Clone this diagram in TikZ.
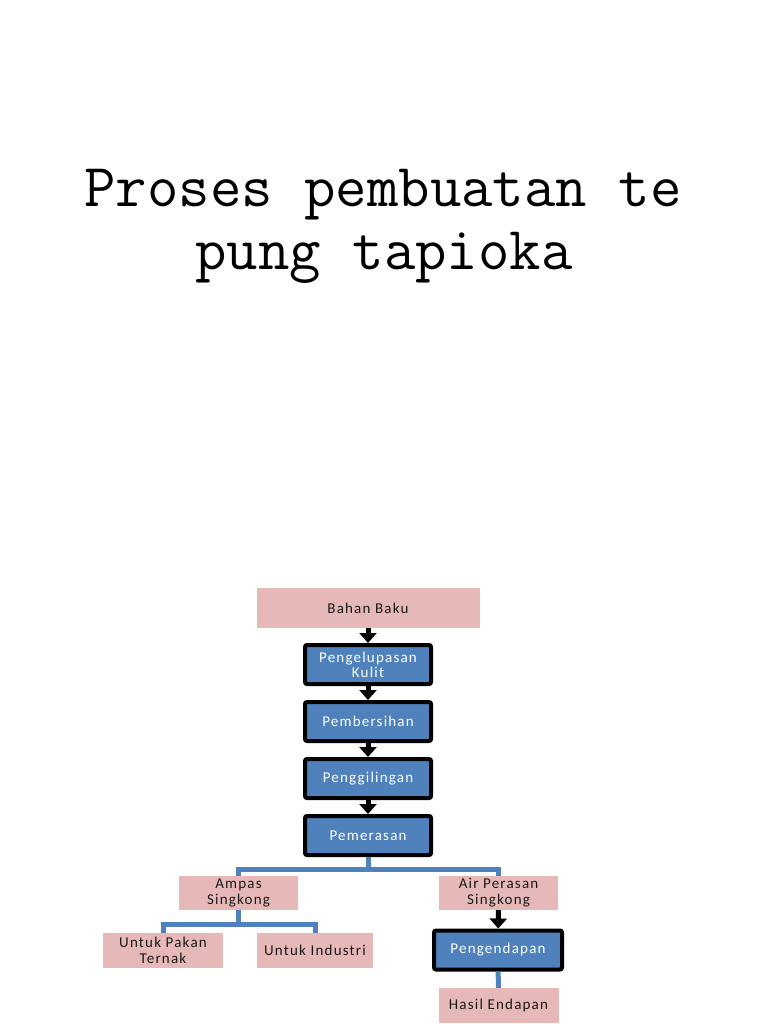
\documentclass[tikz,border=0pt]{standalone}
\usepackage{fontspec}
\newfontfamily\boxfont[LetterSpace=8]{Carlito}
\usetikzlibrary{arrows.meta,positioning,calc}
\definecolor{boxpink}{HTML}{E6B9B8}
\definecolor{boxblue}{HTML}{4F81BD}

\begin{document}
\begin{tikzpicture}[x=1pt,y=-1pt,
  pinkbox/.style={fill=boxpink,text=black!90,font=\boxfont\fontsize{15}{16}\selectfont,align=center,inner sep=0pt},
  bluebox/.style={fill=boxblue,draw=black,line width=4pt,rounded corners=2pt,text=white,font=\boxfont\fontsize{15}{15}\selectfont,align=center,inner sep=0pt,minimum width=126pt,minimum height=39pt},
  flowarrow/.style={-{Triangle[width=17pt,length=10pt]},line width=5pt},
  branch/.style={draw=boxblue,line width=5pt}]

\useasboundingbox (0,0) rectangle (768,1024);

\node[font=\ttfamily\fontsize{61}{62}\selectfont,anchor=base] (title) at (383,207) {Proses pembuatan te};
\node[font=\ttfamily\fontsize{61}{62}\selectfont,anchor=base] (titlecont) at (384,269) {pung tapioka};

\node[pinkbox,minimum width=223pt,minimum height=40pt] (bahan) at (368,608) {Bahan Baku};
\node[bluebox] (kulit) at (368,664.5) {Pengelupasan\\Kulit};
\node[bluebox] (bersih) at (368,721.5) {Pembersihan};
\node[bluebox] (giling) at (368,778.5) {Penggilingan};
\node[bluebox] (peras) at (368,835.5) {Pemerasan};

\node[pinkbox,minimum width=119pt,minimum height=34pt] (ampas) at (238.5,893) {Ampas\\Singkong};
\node[pinkbox,minimum width=119pt,minimum height=34pt] (airperas) at (498.5,893) {Air Perasan\\Singkong};
\node[pinkbox,minimum width=120pt,minimum height=35pt] (pakan) at (163,950.5) {Untuk Pakan\\Ternak};
\node[pinkbox,minimum width=116pt,minimum height=35pt] (industri) at (315,950.5) {Untuk Industri};
\node[bluebox,minimum width=128pt] (endap) at (498,950) {Pengendapan};
\node[pinkbox,minimum width=120pt,minimum height=35pt] (hasil) at (498.5,1005.5) {Hasil Endapan};

\foreach \a/\b in {bahan/kulit,kulit/bersih,bersih/giling,giling/peras}
  \draw[flowarrow] (\a) -- (\b);

\coordinate (pbar) at (368,869);
\draw[branch] (peras) -- (pbar);
\draw[branch] (ampas.north) |- (pbar) -| (airperas.north);

\coordinate (abar) at (238.5,924);
\draw[branch] (ampas) -- (abar);
\draw[branch] (pakan.north) |- (abar) -| (industri.north);

\draw[flowarrow] (airperas) -- (endap);
\draw[branch] (endap) -- (hasil);

\end{tikzpicture}
\end{document}
